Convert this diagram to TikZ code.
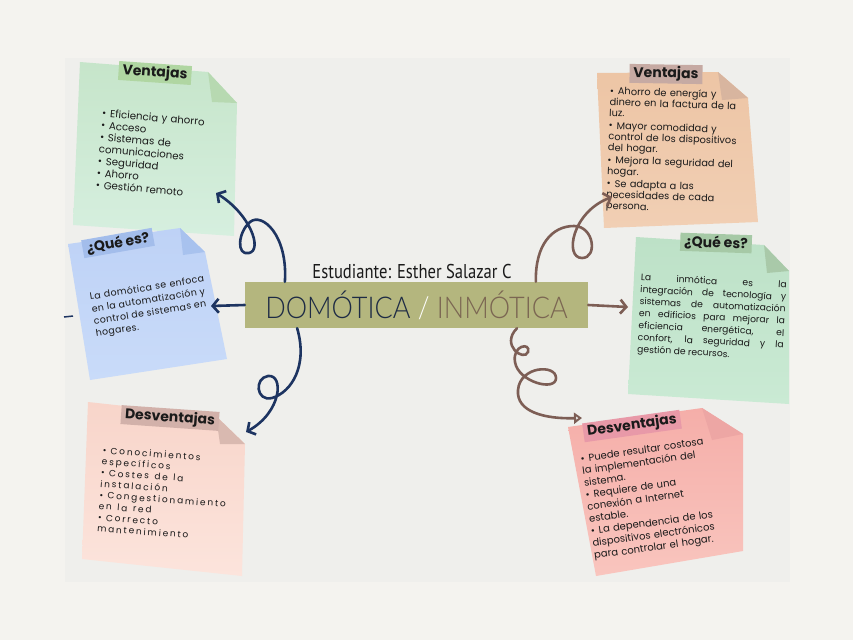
\documentclass[tikz,border=0pt]{standalone}
\usepackage{fontspec}
\usepackage{xcolor}
\usepackage{tikz}
\usetikzlibrary{arrows.meta}

\newfontfamily\notefont{Poppins}
\newfontfamily\bigfont[FakeStretch=0.9]{Lato Light}
\newfontfamily\handfont[FakeStretch=0.83]{PT Sans}

\definecolor{bg}{HTML}{F4F3EF}
\definecolor{paper}{HTML}{EFEFEC}
\definecolor{navy}{HTML}{1D3461}
\definecolor{brownline}{HTML}{7D5E55}
\definecolor{olive}{HTML}{B4B67E}
\definecolor{domo}{HTML}{1E2B45}
\definecolor{inmo}{HTML}{7B6652}
\definecolor{ink}{HTML}{1A1A1A}
\definecolor{vtop}{HTML}{C6E5CA}
\definecolor{vbot}{HTML}{D6EFDF}
\definecolor{vfold}{HTML}{B7D9B1}
\definecolor{vtab}{HTML}{B0D6A2}
\definecolor{qtop}{HTML}{BED2F6}
\definecolor{qbot}{HTML}{C9DBF9}
\definecolor{qfold}{HTML}{A8C2EE}
\definecolor{qtab}{HTML}{A3BDEB}
\definecolor{dtop}{HTML}{F8D5CA}
\definecolor{dbot}{HTML}{FCE4DC}
\definecolor{dfold}{HTML}{D9B9B0}
\definecolor{dtab}{HTML}{D2B1AA}
\definecolor{itop}{HTML}{EDC5A5}
\definecolor{ibot}{HTML}{F1CFB4}
\definecolor{ifold}{HTML}{D8B59F}
\definecolor{itab}{HTML}{C6AAA3}
\definecolor{wtop}{HTML}{BDE1C7}
\definecolor{wbot}{HTML}{CAEAD4}
\definecolor{wfold}{HTML}{A9C9A9}
\definecolor{wtab}{HTML}{A6C9A6}
\definecolor{ptop}{HTML}{F5AEA9}
\definecolor{pbot}{HTML}{F9C5BE}
\definecolor{pfold}{HTML}{EDA6A4}
\definecolor{ptab}{HTML}{E899A8}

\newcommand{\bul}{\par\hangindent=8pt\hangafter=1\noindent\makebox[8pt][l]{\textbullet}}
\newcommand{\wordgap}[1]{\spaceskip=#1 plus 1pt\relax}

\begin{document}
\begin{tikzpicture}[x=1pt,y=-1pt,
  head/.style={font=\notefont\bfseries\fontsize{14}{16}\selectfont,text=ink,inner xsep=4pt,inner ysep=2pt},
  body/.style={font=\notefont\fontsize{10.2}{12}\selectfont,text=ink,align=left},
  navylink/.style={draw=navy,line width=2.6pt,line cap=round,-{Straight Barb[length=6pt,width=14pt]}},
  brownlink/.style={draw=brownline,line width=2.6pt,line cap=round,-{Straight Barb[length=6pt,width=14pt]}}]

  \useasboundingbox (0,0) rectangle (853,640);
  \fill[bg] (0,0) rectangle (853,640);
  \fill[paper] (65,58) rectangle (790,582);

  \shade[top color=vtop,bottom color=vbot] (80,62) -- (208,72) -- (237,103) -- (234,236) -- (73,225) -- cycle;
  \fill[vfold] (208,72) -- (237,103) -- (212,102) -- cycle;
  \node[head,fill=vtab,rotate=-4] (v1head) at (155,73) {Ventajas};
  \node[body,text width=122pt,rotate=-5] (v1text) at (160,152)
    {\bul Eficiencia y ahorro\bul Acceso\bul Sistemas de\\comunicaciones\bul Seguridad\bul Ahorro\bul Gestión remoto};

  \shade[top color=qtop,bottom color=qbot] (68,244) -- (180,228) -- (205,252) -- (227,359) -- (90,380) -- cycle;
  \fill[qfold] (180,228) -- (205,252) -- (183,255) -- cycle;
  \node[head,fill=qtab,rotate=10] (q1head) at (118,243) {¿Qué es?};
  \node[body,font=\notefont\fontsize{9.4}{12.5}\selectfont\addfontfeature{LetterSpace=4},rotate=9] (q1text) at (150,307)
    {\wordgap{3.4pt}La domótica se enfoca\\en la automatización y\\control de sistemas en\\hogares.};

  \shade[top color=dtop,bottom color=dbot] (88,402) -- (216,416) -- (245,444) -- (242,576) -- (82,559) -- cycle;
  \fill[dfold] (216,416) -- (245,444) -- (220,444) -- cycle;
  \node[head,fill=dtab,rotate=-4] (d1head) at (170,418) {Desventajas};
  \node[body,text width=140pt,font=\notefont\fontsize{9}{11.2}\selectfont\addfontfeature{LetterSpace=20},rotate=-4] (d1text) at (170,492)
    {\wordgap{5.5pt}\bul Conocimientos\\específicos\bul Costes de la\\instalación\bul Congestionamiento\\en la red\bul Correcto\\mantenimiento};

  \shade[top color=itop,bottom color=ibot] (597,73) -- (718,72) -- (748,98) -- (758,222) -- (604,228) -- cycle;
  \fill[ifold] (718,72) -- (748,98) -- (722,100) -- cycle;
  \node[head,fill=itab,rotate=-1] (v2head) at (666,74) {Ventajas};
  \node[body,text width=150pt,font=\notefont\fontsize{9.8}{11}\selectfont,rotate=-2] (v2text) at (683,150)
    {\bul Ahorro de energía y\\dinero en la factura de la\\luz.\par\vspace{1.5pt}\bul Mayor comodidad y\\control de los dispositivos\\del hogar.\par\vspace{1.5pt}\bul Mejora la seguridad del\\hogar.\par\vspace{1.5pt}\bul Se adapta a las\\necesidades de cada\\persona.};

  \shade[top color=wtop,bottom color=wbot] (636,237) -- (764,245) -- (789,271) -- (789,404) -- (628,394) -- cycle;
  \fill[wfold] (764,245) -- (789,271) -- (767,273) -- cycle;
  \node[head,fill=wtab,rotate=-2] (q2head) at (716,243) {¿Qué es?};
  \node[body,text width=146pt,align=justify,font=\notefont\fontsize{9.2}{12}\selectfont,rotate=-3] (q2text) at (712,318)
    {La inmótica es la\linebreak integración de tecnología y\linebreak sistemas de automatización\linebreak en edificios para mejorar la\linebreak eficiencia energética, el\linebreak confort, la seguridad y la\linebreak gestión de recursos.};

  \shade[top color=ptop,bottom color=pbot] (568,427) -- (702,408) -- (743,434) -- (743,551) -- (596,576) -- cycle;
  \fill[pfold] (702,408) -- (743,434) -- (712,440) -- cycle;
  \node[head,fill=ptab,rotate=8] (d2head) at (632,426) {Desventajas};
  \node[body,text width=155pt,font=\notefont\fontsize{10}{12.2}\selectfont,rotate=8] (d2text) at (664,495)
    {\bul Puede resultar costosa\\la implementación del\\sistema.\bul Requiere de una\\conexión a Internet\\estable.\bul La dependencia de los\\dispositivos electrónicos\\para controlar el hogar.};

  \node[fill=olive,minimum width=343pt,minimum height=46pt,inner sep=0pt,font=\bigfont\fontsize{30}{30}\selectfont] (center) at (416.5,305)
    {\textcolor{domo}{DOMÓTICA} \textcolor{white}{/} \textcolor{inmo}{INMÓTICA}};
  \node[font=\handfont\fontsize{20}{20}\selectfont,text=ink,inner sep=0pt] (student) at (412,271) {Estudiante: Esther Salazar C};

  \coordinate (vtip) at (216,193);
  \coordinate (qtip) at (211,306);
  \coordinate (dtip) at (246,432);
  \coordinate (btip) at (612,197);
  \coordinate (rtip) at (628,307);
  \coordinate (ddtip) at (582,418);

  \draw[navylink] (center.170) .. controls (288,235) and (262,212) .. (250,222) .. controls (238,232) and (236,256) .. (249,253) .. controls (263,250) and (250,214) .. (vtip);
  \draw[navylink] (center.west) -- (qtip);
  \draw[navylink] (center.191) .. controls (308,365) and (292,392) .. (272,398) .. controls (256,402) and (254,378) .. (268,376) .. controls (284,374) and (282,412) .. (dtip);
  \draw[navy,line width=1.5pt] (64,317) -- (73,316);

  \draw[brownlink] (center.11) .. controls (535,245) and (552,226) .. (574,226) .. controls (594,226) and (598,258) .. (582,258) .. controls (564,258) and (572,212) .. (btip);
  \draw[brownlink] (center.east) -- (rtip);
  \draw[draw=brownline,line width=2.6pt,line cap=round,-{Triangle[open,length=8pt,width=11pt]}] (center.-13.5) .. controls (500,345) and (524,362) .. (528,352) .. controls (531,342) and (512,345) .. (515,362) .. controls (518,382) and (556,392) .. (556,378) .. controls (556,364) and (520,366) .. (518,390) .. controls (516,412) and (545,419) .. (ddtip);
\end{tikzpicture}
\end{document}
